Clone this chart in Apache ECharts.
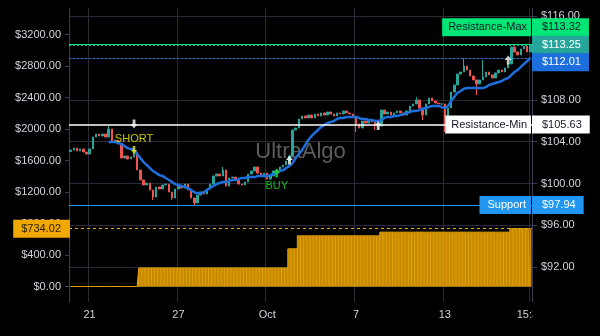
<!DOCTYPE html>
<html><head><meta charset="utf-8">
<script src="https://cdn.jsdelivr.net/npm/echarts@6/dist/echarts.min.js"></script>
<style>html,body{margin:0;padding:0;background:#000;}#c{width:600px;height:336px;}</style>
</head><body><div id="c"></div>
<script>
// ---- data ----
const sessions = ['2021-09-20','2021-09-21','2021-09-22','2021-09-23','2021-09-24','2021-09-27','2021-09-28','2021-09-29','2021-09-30','2021-10-01','2021-10-04','2021-10-05','2021-10-06','2021-10-07','2021-10-08','2021-10-11','2021-10-12','2021-10-13','2021-10-14','2021-10-15','2021-10-18'];
const sessionHours = ['09:30','10:30','11:30','12:30','13:30','14:30','15:30'];
const firstBarTime = '2021-09-20 10:30';
const tickLabels = {'2021-09-21':'21','2021-09-27':'27','2021-10-01':'Oct','2021-10-07':'7','2021-10-13':'13'};
const lastBarLabel = '15:30';

const open0 = 103.05;
const closes = [
 103.20,103.39,103.11,103.30,103.01,102.82,103.30,104.44,104.73,104.54,
 104.73,104.44,105.21,103.97,104.16,103.78,102.44,102.63,102.34,102.53,
 102.92,101.29,100.34,99.86,100.05,99.38,98.71,99.67,99.48,99.86,
 99.95,99.19,98.62,99.48,99.76,99.57,99.95,99.38,98.62,98.14,
 98.90,99.19,99.00,99.48,99.95,100.72,100.91,100.72,101.29,99.76,
 100.53,100.62,100.34,99.95,99.86,100.15,100.91,101.20,101.58,101.00,
 100.81,101.00,100.43,100.72,101.20,101.29,101.58,101.77,102.15,102.63,
 105.11,105.30,106.16,106.45,106.26,106.54,106.26,106.64,106.45,106.74,
 106.54,106.83,106.64,106.45,106.74,106.64,106.93,106.74,106.64,106.45,
 105.69,105.30,105.97,105.78,105.97,105.88,105.69,105.49,107.02,106.64,
 106.83,106.54,106.74,106.93,106.74,106.54,106.93,107.40,107.60,107.98,
 107.21,106.54,107.60,108.17,107.88,107.69,107.60,107.60,106.07,107.21,
 108.74,109.41,110.46,110.65,111.22,110.84,110.27,109.89,109.51,109.89,
 110.17,110.65,110.37,110.08,110.56,110.84,110.65,111.03,111.42,113.04,
 112.56,112.28,112.85,113.13,112.56,113.25
];
const wickHigh = {12:105.49, 48:101.58, 109:108.26, 124:111.99, 130:111.80};
const wickLow = {26:98.43, 32:98.43, 39:97.85, 90:104.92, 96:105.11, 111:106.07, 118:104.92, 128:108.45};

const maValues = [
 null,null,null,null,null,null,null,null,null,null,null,null,
 103.97,103.97,103.97,103.87,103.78,103.58,103.39,103.30,
 103.20,102.82,102.44,102.06,101.77,101.48,101.20,101.00,100.81,100.72,
 100.53,100.34,100.15,99.95,99.86,99.76,99.67,99.57,99.38,99.19,
 99.09,99.09,99.19,99.38,99.57,99.76,99.95,100.05,100.15,100.15,
 100.24,100.34,100.34,100.43,100.53,100.53,100.62,100.62,100.62,100.72,
 100.72,100.72,100.72,100.81,100.91,101.00,101.20,101.29,101.48,101.67,
 101.96,102.44,102.82,103.20,103.68,104.16,104.54,104.83,105.11,105.40,
 105.59,105.78,105.88,105.97,106.16,106.26,106.26,106.35,106.35,106.35,
 106.35,106.26,106.16,106.16,106.07,106.07,105.97,105.97,106.07,106.26,
 106.35,106.35,106.45,106.45,106.54,106.64,106.74,106.83,106.93,106.93,
 107.02,107.12,107.21,107.31,107.40,107.40,107.40,107.31,107.21,107.40,
 107.88,108.26,108.65,108.84,109.03,109.12,109.12,109.12,109.12,109.12,
 109.12,109.22,109.41,109.51,109.60,109.70,109.79,109.98,110.08,110.36,
 110.65,110.84,111.13,111.42,111.70,112.01
];

// oscillator (left scale), run-length: value holds from start index until next start
const oscLevelStart = [0, 22, 69, 72, 98, 139];
const oscLevelValue = [0, 236, 478, 643, 690, 734.02];

const priceTicks = [92, 96, 100, 104, 108, 112, 116];
const oscTicks = [0, 400, 800, 1200, 1600, 2000, 2400, 2800, 3200];
const resistanceMax = 113.32;
const resistanceMin = 105.63;
const supportLevel = 97.94;

const signals = [
 {idx: 20, price: 105.69, dir: 'down', color: '#ffffff', text: ''},
 {idx: 20, price: 103.20, dir: 'down', color: '#f2f200', text: 'SHORT', small: true},
 {idx: 65, price: 101.00, dir: 'up', color: '#1ee01e', text: 'BUY'},
 {idx: 69, price: 102.25, dir: 'up', color: '#ffffff', text: ''},
 {idx: 97, price: 105.55, dir: 'up', color: '#ffffff', text: ''},
 {idx: 138, price: 111.80, dir: 'up', color: '#ffffff', text: ''}
];

// ---- build ----
const cats = [];
let started = false;
sessions.forEach(d => sessionHours.forEach(h => {
  const t = d + ' ' + h;
  if (t === firstBarTime) started = true;
  if (started) cats.push(t);
}));
function labelOf(v) {
  if (v === cats[cats.length - 1]) return lastBarLabel;
  const [d, h] = v.split(' ');
  if (h === sessionHours[0] && tickLabels[d]) return tickLabels[d];
  return '';
}
const ohlc = closes.map((c, i) => {
  const o = i === 0 ? open0 : closes[i - 1];
  let hi = Math.max(o, c), lo = Math.min(o, c);
  if (wickHigh[i] !== undefined) hi = Math.max(hi, wickHigh[i]);
  if (wickLow[i] !== undefined) lo = Math.min(lo, wickLow[i]);
  return [o, c, lo, hi];
});
const osc = closes.map((_, i) => {
  let v = 0;
  oscLevelStart.forEach((s, k) => { if (i >= s) v = oscLevelValue[k]; });
  return v;
});
const lastClose = closes[closes.length - 1];
const maLast = maValues[maValues.length - 1];
const oscLast = osc[osc.length - 1];

const FONT_FAMILY = '"Liberation Sans", Arial, sans-serif';
const UP = 'path://M5,0L10,5L7,5L7,10L3,10L3,5L0,5Z';
const DOWN = 'path://M3,0L7,0L7,5L10,5L5,10L0,5L3,5Z';
const signalData = signals.map(s => ({
  value: [s.idx, s.price],
  symbol: s.dir === 'up' ? UP : DOWN,
  symbolSize: s.small ? [6, 8] : [7, 9],
  itemStyle: {color: s.color},
  label: s.text ? {
    show: true, formatter: s.text, color: s.color,
    position: s.dir === 'down' ? 'top' : 'bottom',
    distance: s.dir === 'down' ? 2 : 3,
    fontSize: 11, fontFamily: FONT_FAMILY
  } : {show: false}
}));

const AXIS_TXT = '#d1d4dc';
const AXIS_LINE = '#3b3b55';
const GRID_LINE = '#2a2a38';

const chart = echarts.init(document.getElementById('c'));
chart.setOption({
  backgroundColor: '#000000',
  animation: false,
  grid: {left: 69, right: 68, top: 8, bottom: 34},
  xAxis: {
    type: 'category', data: cats, boundaryGap: true,
    axisLine: {lineStyle: {color: AXIS_LINE}},
    axisTick: {show: false},
    axisLabel: {
      color: AXIS_TXT, fontSize: 11, fontFamily: FONT_FAMILY, margin: 7,
      interval: (i, v) => labelOf(v) !== '',
      formatter: v => labelOf(v)
    },
    splitLine: {show: true, interval: (i, v) => labelOf(v) !== '', lineStyle: {color: GRID_LINE}}
  },
  yAxis: [
    {
      type: 'value', position: 'left', min: -197, max: 3537, scale: false,
      axisLine: {show: true, lineStyle: {color: AXIS_LINE}},
      axisTick: {show: true, length: 4, customValues: oscTicks, lineStyle: {color: AXIS_LINE}},
      axisLabel: {customValues: oscTicks, color: AXIS_TXT, fontSize: 11, fontFamily: FONT_FAMILY, margin: 8,
        formatter: v => '$' + v.toFixed(2)},
      splitLine: {show: false}
    },
    {
      type: 'value', position: 'right', min: 88.69, max: 116.76, scale: true,
      axisLine: {show: true, lineStyle: {color: AXIS_LINE}},
      axisTick: {show: true, length: 5, customValues: priceTicks, lineStyle: {color: AXIS_LINE}},
      axisLabel: {customValues: priceTicks, color: AXIS_TXT, fontSize: 11, fontFamily: FONT_FAMILY, margin: 9,
        formatter: v => '$' + v.toFixed(2)},
      splitLine: {show: true, lineStyle: {color: GRID_LINE}}
    }
  ],
  series: [
    {
      type: 'line', yAxisIndex: 0, data: osc, step: 'middle', symbol: 'none', z: 1,
      lineStyle: {color: '#e6a00c', width: 1}, areaStyle: {color: '#e6a00c', opacity: 1},
      silent: true
    },
    {
      type: 'bar', yAxisIndex: 0, data: osc, barCategoryGap: '30%', z: 2,
      itemStyle: {color: '#c48a00'}, silent: true,
      markLine: {
        silent: true, symbol: ['none', 'none'], label: {show: false},
        data: [{yAxis: oscLast, lineStyle: {color: '#f0a800', type: [3, 3], width: 1}}]
      }
    },
    {
      type: 'candlestick', yAxisIndex: 1, data: ohlc, barWidth: 2, z: 3,
      itemStyle: {color: '#26a69a', color0: '#ef5350', borderColor: '#26a69a', borderColor0: '#ef5350', borderWidth: 1},
      markLine: {
        silent: true, symbol: ['none', 'none'], label: {show: false},
        data: [
          {yAxis: resistanceMax, lineStyle: {color: '#00e676', type: 'solid', width: 1}},
          {yAxis: lastClose, lineStyle: {color: '#26a69a', type: [2, 2], width: 1}},
          {yAxis: maLast, lineStyle: {color: '#1e6fde', type: [2, 2], width: 1}},
          {yAxis: resistanceMin, lineStyle: {color: '#ffffff', type: 'solid', width: 1.5}},
          {yAxis: supportLevel, lineStyle: {color: '#2196f3', type: 'solid', width: 1}}
        ]
      }
    },
    {
      type: 'line', yAxisIndex: 1, data: maValues, smooth: 0.3, symbol: 'none', z: 4,
      lineStyle: {color: '#1e6fde', width: 2.5}, silent: true
    },
    {
      type: 'scatter', yAxisIndex: 1, data: signalData, z: 5, silent: true
    }
  ]
});

// ---- overlay tags (positions from the chart's scales) ----
const rect = chart.getModel().getComponent('grid', 0).coordinateSystem.getRect();
const gRight = rect.x + rect.width, gLeft = rect.x;
const py = v => chart.convertToPixel({yAxisIndex: 1}, v);
const oy = v => chart.convertToPixel({yAxisIndex: 0}, v);
const TAG_FONT = '11px ' + FONT_FAMILY;
function tag(x, y, text, bg, fg, align, pad) {
  return {
    type: 'text', x: x, y: y, z: 100, zlevel: 0, silent: true,
    style: {text: text, fill: fg, font: TAG_FONT, backgroundColor: bg, padding: pad,
      align: align, verticalAlign: 'middle', textAlign: align, textVerticalAlign: 'middle', lineHeight: 12}
  };
}
const H = 17.5;
let yLast = py(lastClose), yRes = py(resistanceMax), yMa = py(maLast);
if (yLast - yRes < H) yRes = yLast - H;
if (yMa - yLast < H) yMa = yLast + H;
const yResMin = py(resistanceMin), ySup = py(supportLevel);
const valPad = [3, 8, 3, 10], namePad = [3, 4, 3, 6];
const els = [
  {type: 'text', x: rect.x + rect.width / 2, y: rect.y + rect.height / 2 - 3, z: 0, silent: true,
    style: {text: 'UltraAlgo', fill: '#5c5c5c', font: '22px ' + FONT_FAMILY, align: 'center', verticalAlign: 'middle', textAlign: 'center', textVerticalAlign: 'middle'}},
  {type: 'rect', z: 50, silent: true, shape: {x: gRight + 1, y: rect.y + rect.height + 2, width: 80, height: 40}, style: {fill: '#000000'}},
  tag(gRight - 1, yRes, 'Resistance-Max', '#00e676', '#131722', 'right', namePad),
  tag(gRight, yRes, '$' + resistanceMax.toFixed(2), '#00e676', '#131722', 'left', valPad),
  tag(gRight, yLast, '$' + lastClose.toFixed(2), '#26a69a', '#ffffff', 'left', valPad),
  tag(gRight, yMa, '$' + maLast.toFixed(2), '#1e6fde', '#ffffff', 'left', valPad),
  tag(gRight - 1, yResMin, 'Resistance-Min', '#ffffff', '#131722', 'right', namePad),
  tag(gRight, yResMin, '$' + resistanceMin.toFixed(2), '#ffffff', '#131722', 'left', valPad),
  tag(gRight - 1, ySup, 'Support', '#2196f3', '#ffffff', 'right', [3, 5, 3, 8]),
  tag(gRight, ySup, '$' + supportLevel.toFixed(2), '#2196f3', '#ffffff', 'left', valPad),
  tag(gLeft + 1, oy(oscLast), '$' + oscLast.toFixed(2), '#f0a800', '#2a2000', 'right', [3, 9, 3, 8])
];
chart.setOption({graphic: {elements: els}});
</script>
</body></html>
